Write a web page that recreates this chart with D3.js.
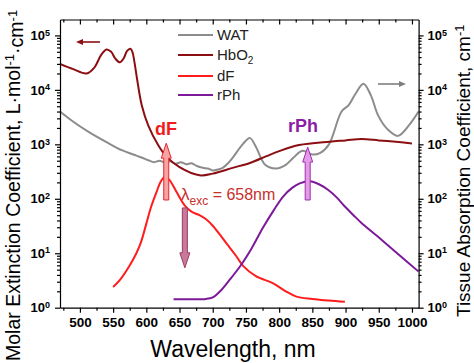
<!DOCTYPE html>
<html>
<head>
<meta charset="utf-8">
<script src="https://cdn.jsdelivr.net/npm/d3@7"></script>
<style>
  body { margin: 0; background: #fff; }
  svg { font-family: "Liberation Sans", Arial, sans-serif; }
</style>
</head>
<body>
<div class="chart"></div>
<script>
// wavelength (nm) / value pairs
const watNm  = [470, 490, 513, 540, 563, 585, 595, 603, 612, 620, 628, 636, 644, 652, 660, 668, 676, 685, 693, 700, 708, 715, 723, 731, 745, 756, 765, 779, 796, 810, 821, 835, 850, 862, 875, 894, 905, 915, 927, 938, 949, 963, 979, 995, 1010];
const watVal = [4000, 2600, 1700, 1100, 780, 620, 560, 510, 470, 500, 460, 490, 440, 470, 430, 450, 400, 370, 360, 330, 345, 370, 450, 590, 1000, 1300, 900, 420, 360, 420, 560, 760, 650, 700, 1000, 4000, 5300, 8500, 13000, 8000, 3400, 1900, 1430, 2200, 4000];

const hbNm  = [470, 490, 510, 522, 532, 540, 547, 553, 560, 566, 571, 576, 579, 582, 586, 593, 603, 618, 630, 650, 680, 700, 730, 756, 780, 800, 830, 876, 900, 924, 950, 980, 1000];
const hbVal = [30000, 24000, 20000, 26000, 44000, 55000, 50000, 38000, 32000, 38000, 52000, 57000, 50000, 33000, 16000, 5300, 2200, 960, 600, 380, 270, 290, 370, 455, 600, 750, 970, 1120, 1180, 1250, 1180, 1100, 1040];

const dfNm  = [550, 560, 574, 585, 592, 600, 607, 615, 622, 628, 635, 646, 658, 668, 680, 690, 700, 712, 721, 735, 746, 765, 791, 810, 826, 850, 875, 899];
const dfVal = [2.4, 3.2, 5.7, 10, 16, 35, 70, 130, 210, 255, 220, 130, 75, 58, 50, 42, 32, 21, 15, 9, 5.8, 3.8, 2.8, 2.0, 1.6, 1.45, 1.35, 1.28];

const rphNm  = [641, 660, 690, 700, 711, 725, 741, 758, 776, 792, 806, 820, 831, 846, 860, 874, 887, 899, 912, 924, 949, 975, 1010];
const rphVal = [1.43, 1.43, 1.45, 1.55, 2.0, 3.2, 5.7, 12, 30, 62, 110, 160, 192, 210, 185, 145, 105, 72, 50, 36, 20, 10.7, 4.6];

const seriesNames  = ["WAT", "HbO2", "dF", "rPh"];
const seriesColors = ["#8c8c8c", "#8b0f12", "#ff1c1c", "#7d1a99"];

const xMajor = [500, 550, 600, 650, 700, 750, 800, 850, 900, 950, 1000];
const yMajor = [1, 10, 100, 1000, 10000, 100000];

// arrows: [wavelength, from value, to value]
const dfArrow  = [630, 95, 1050];
const rphArrow = [843, 95, 890];
const excArrow = [658, 68, 5.4];

const W = 474, H = 363;
const pLeft = 60, pRight = 418.6, pTop = 19.5, pBottom = 307.7;

const svg = d3.select(".chart").append("svg")
  .attr("width", W).attr("height", H);

const x = d3.scaleLinear().domain([470, 1010]).range([pLeft, pRight]);
const y = d3.scaleLog().domain([1, 1.96e5]).range([pBottom, pTop]);

const series = [
  {name: seriesNames[0], nm: watNm, val: watVal, color: seriesColors[0]},
  {name: seriesNames[1], nm: hbNm, val: hbVal, color: seriesColors[1]},
  {name: seriesNames[2], nm: dfNm, val: dfVal, color: seriesColors[2]},
  {name: seriesNames[3], nm: rphNm, val: rphVal, color: seriesColors[3]}
];

svg.append("clipPath").attr("id", "clip")
  .append("rect").attr("x", pLeft).attr("y", pTop)
  .attr("width", pRight - pLeft).attr("height", pBottom - pTop);

const line = d3.line()
  .x(d => x(d[0]))
  .y(d => y(d[1]))
  .curve(d3.curveCatmullRom.alpha(0.5));

svg.append("g").attr("clip-path", "url(#clip)")
  .selectAll("path")
  .data(series)
  .enter()
  .append("path")
  .attr("d", s => line(s.nm.map((n, i) => [n, s.val[i]])))
  .attr("fill", "none")
  .attr("stroke", s => s.color)
  .attr("stroke-width", 2)
  .attr("stroke-linejoin", "round");

// axes
const xMinor = d3.range(475, 1010, 25).filter(v => v % 50 !== 0);
const yMinor = [];
for (let e = 0; e < 6; e++) for (let k = 2; k <= 9; k++) {
  const v = k * Math.pow(10, e);
  if (v < 1.96e5) yMinor.push(v);
}

function styleAxis(g) {
  g.selectAll("path, line").attr("stroke", "#000").attr("stroke-width", 1.2);
  g.selectAll("text").attr("fill", "#000");
}

const gx = svg.append("g").attr("transform", `translate(0,${pBottom})`)
  .call(d3.axisBottom(x).tickValues(xMajor).tickSize(5).tickSizeOuter(0).tickPadding(5).tickFormat(d3.format("d")))
  .call(styleAxis);
gx.selectAll("text").attr("font-size", 13.5).attr("font-weight", "bold");
svg.append("g").attr("transform", `translate(0,${pBottom})`)
  .call(d3.axisBottom(x).tickValues(xMinor).tickSize(3).tickFormat(""))
  .call(styleAxis).select(".domain").remove();

svg.append("g").attr("transform", `translate(0,${pTop})`)
  .call(d3.axisBottom(x).tickValues(xMajor).tickSize(5).tickSizeOuter(0).tickFormat(""))
  .call(styleAxis);
svg.append("g").attr("transform", `translate(0,${pTop})`)
  .call(d3.axisBottom(x).tickValues(xMinor).tickSize(3).tickFormat(""))
  .call(styleAxis).select(".domain").remove();

function powLabels(g) {
  g.selectAll(".tick text").each(function(d) {
    const t = d3.select(this).text("10")
      .attr("font-size", 13).attr("font-weight", "bold");
    t.append("tspan").attr("dy", "-0.5em").attr("font-size", 9)
      .text(Math.round(Math.log10(d)));
  });
}

svg.append("g").attr("transform", `translate(${pLeft},0)`)
  .call(d3.axisLeft(y).tickValues(yMajor).tickSize(5).tickSizeOuter(0).tickPadding(5))
  .call(styleAxis).call(powLabels);
svg.append("g").attr("transform", `translate(${pLeft},0)`)
  .call(d3.axisLeft(y).tickValues(yMinor).tickSize(3).tickFormat(""))
  .call(styleAxis).select(".domain").remove();

svg.append("g").attr("transform", `translate(${pRight},0)`)
  .call(d3.axisRight(y).tickValues(yMajor).tickSize(5).tickSizeOuter(0).tickPadding(4))
  .call(styleAxis).call(powLabels);
svg.append("g").attr("transform", `translate(${pRight},0)`)
  .call(d3.axisRight(y).tickValues(yMinor).tickSize(3).tickFormat(""))
  .call(styleAxis).select(".domain").remove();

// axis titles
svg.append("text")
  .attr("transform", "translate(20,361) rotate(-90)")
  .attr("font-size", 19.5)
  .text("Molar Extinction Coefficient,  L·mol")
  .call(t => {
    t.append("tspan").attr("dy", "-0.5em").attr("font-size", 13).text("-1");
    t.append("tspan").attr("dy", "0.5em").text("·cm");
    t.append("tspan").attr("dy", "-0.5em").attr("font-size", 13).text("-1");
  });

svg.append("text")
  .attr("transform", "translate(470,317) rotate(-90)")
  .attr("font-size", 19)
  .text("Tissue Absorption Coefficient,  cm")
  .call(t => t.append("tspan").attr("dy", "-0.5em").attr("font-size", 13).text("-1"));

svg.append("text")
  .attr("x", 233).attr("y", 357)
  .attr("text-anchor", "middle")
  .attr("font-size", 23)
  .text("Wavelength, nm");

// legend
const legend = svg.append("g");
const legendY = [35, 55, 76, 95];
series.forEach((s, i) => {
  legend.append("line")
    .attr("x1", 178).attr("x2", 213)
    .attr("y1", legendY[i]).attr("y2", legendY[i])
    .attr("stroke", s.color).attr("stroke-width", 2);
  const t = legend.append("text")
    .attr("x", 217).attr("y", legendY[i]).attr("dy", "0.36em")
    .attr("font-size", 15).attr("fill", "#222");
  if (s.name === "HbO2") {
    t.text("HbO");
    t.append("tspan").attr("dy", "0.35em").attr("font-size", 10).text("2");
  } else {
    t.text(s.name);
  }
});

// block arrows
function blockArrow(a, fill, stroke) {
  const cx = x(a[0]), y0 = y(a[1]), y1 = y(a[2]);
  const dir = y1 < y0 ? -1 : 1;
  const headLen = 15, sw = 2.5, hw = 5;
  const yh = y1 - dir * headLen;
  const pts = [
    [cx - sw, y0], [cx - sw, yh], [cx - hw, yh], [cx, y1],
    [cx + hw, yh], [cx + sw, yh], [cx + sw, y0]
  ];
  svg.append("path")
    .attr("d", "M" + pts.map(p => p.join(",")).join("L") + "Z")
    .attr("fill", fill).attr("stroke", stroke).attr("stroke-width", 1);
}
blockArrow(dfArrow, "#f7a3a3", "#e8242a");
blockArrow(rphArrow, "#e39be6", "#a02cb0");
blockArrow(excArrow, "#c77a9c", "#9c3a62");

// little direction arrows
function smallArrow(x1, x2, yy, color) {
  const dir = x2 > x1 ? 1 : -1;
  svg.append("line").attr("x1", x1).attr("x2", x2 - dir * 4)
    .attr("y1", yy).attr("y2", yy)
    .attr("stroke", color).attr("stroke-width", 1.6);
  svg.append("path")
    .attr("d", `M${x2},${yy}L${x2 - dir * 7},${yy - 3}L${x2 - dir * 7},${yy + 3}Z`)
    .attr("fill", color);
}
smallArrow(100, 76, 42, seriesColors[1]);
smallArrow(378, 406, 84, "#7f7f7f");

// labels
svg.append("text").attr("x", 155).attr("y", 135)
  .attr("font-size", 18).attr("font-weight", "bold")
  .attr("fill", "#f01c1c").text("dF");
svg.append("text").attr("x", 288).attr("y", 132)
  .attr("font-size", 18).attr("font-weight", "bold")
  .attr("fill", "#8a1fa6").text("rPh");

const exc = svg.append("text").attr("x", 181).attr("y", 200)
  .attr("font-size", 17).attr("fill", "#c8302a");
exc.append("tspan").text("λ");
exc.append("tspan").attr("dy", 5).attr("font-size", 12).text("exc");
exc.append("tspan").attr("dy", -5).attr("font-size", 16).text(" = 658nm");
</script>
</body>
</html>
